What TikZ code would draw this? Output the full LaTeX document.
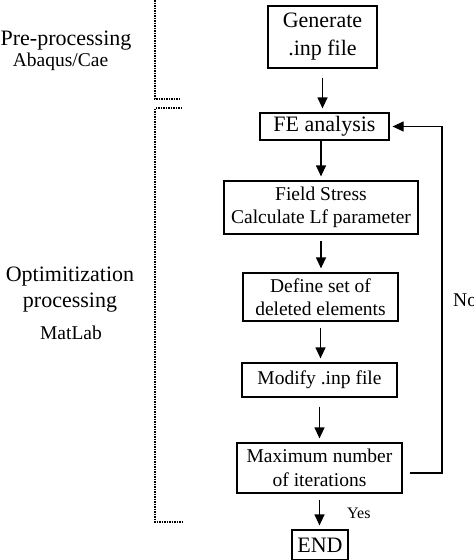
\documentclass[tikz,border=0pt]{standalone}
\usepackage{fontspec}
\setmainfont{Liberation Serif}
\usetikzlibrary{arrows.meta}
\tikzset{
    stepbox/.style={
        draw,
        line width=1.2pt,
        align=center,
        inner sep=1pt
    },
    bigtext/.style={font=\fontsize{22}{28}\selectfont},
    smalltext/.style={font=\fontsize{19.5}{23.5}\selectfont},
    flow/.style={-{Triangle[length=11pt,width=10pt]},line width=1.2pt,
        shorten <=6pt,shorten >=4pt},
    dotline/.style={line width=1.1pt,dash pattern=on 1.5pt off 1pt},
    tag/.style={inner sep=0pt}
}

\begin{document}
\begin{tikzpicture}[x=1pt,y=-1pt]
        \useasboundingbox (0,0) rectangle (474,560);
        % stages
        \node[stepbox,bigtext,minimum width=109pt,minimum height=62pt] (gen) at (322.5,37) {Generate\\.inp file};
        \node[stepbox,bigtext,minimum width=129pt,minimum height=27pt] (fe) at (324.5,126.5) {FE analysis};
        \node[stepbox,smalltext,minimum width=194pt,minimum height=53pt] (field) at (321,207.5) {Field Stress\\Calculate Lf parameter};
        \node[stepbox,smalltext,minimum width=155pt,minimum height=48pt] (del) at (320.5,297) {Define set of\\deleted elements};
        \node[stepbox,smalltext,minimum width=155pt,minimum height=34pt] (mod) at (319.5,380) {Modify .inp file};
        \node[stepbox,smalltext,minimum width=165pt,minimum height=50pt] (maxit) at (319.5,468) {Maximum number\\of iterations};
        \node[stepbox,bigtext,minimum width=56pt,minimum height=30pt] (fin) at (320,545) {END};
        % arrows
        \draw[flow,shorten <=9pt] (gen.south) -- (gen.south |- fe.north);
        \draw[flow] (fe.south) -- (fe.south -| field.north) -- (field.north);
        \draw[flow] (field.south) -- (field.south |- del.north);
        \draw[flow] (del.south) -- (del.south |- mod.north);
        \draw[flow,shorten <=9pt] (mod.south) -- (mod.south |- maxit.north);
        \draw[flow] (maxit.south) -- (maxit.south |- fin.north);
        % loop back
        \coordinate (back) at (442,0);
        \draw[flow,shorten <=7pt,shorten >=3pt] ([yshift=-5pt]maxit.east) -- ([yshift=-5pt]maxit.east -| back) |- (fe.east);
        \node[tag,smalltext,anchor=west] (no) at (453,300) {No};
        \node[tag,font=\fontsize{16}{18}\selectfont,anchor=west] (yes) at (347,513) {Yes};
        % phases
        \draw[dotline] (155,0) -- (155,99) -- (180,99);
        \draw[dotline] (182,108) -- (155,108) -- (155,522) -- (184,522);
        \node[tag,bigtext,anchor=base] (pre) at (66,45) {Pre-processing};
        \node[tag,smalltext,anchor=base] (abq) at (60.5,66) {Abaqus/Cae};
        \node[tag,bigtext,anchor=base] (opt) at (70,281) {Optimitization};
        \node[tag,bigtext,anchor=base] (proc) at (70,307) {processing};
        \node[tag,smalltext,anchor=base] (mat) at (71,339) {MatLab};
\end{tikzpicture}
\end{document}
